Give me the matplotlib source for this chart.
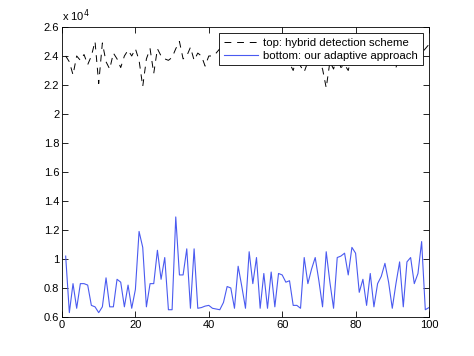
import matplotlib
matplotlib.use("Agg")
import matplotlib.pyplot as plt
from matplotlib.ticker import FuncFormatter

plt.rcParams['font.family'] = ['Liberation Sans', 'DejaVu Sans']

# values in units of 1e4 (axis shows "x 10^4"), x runs 1..100
top_hybrid = [
    2.40, 2.36, 2.27, 2.40, 2.37, 2.41, 2.34, 2.40, 2.50, 2.21,
    2.49, 2.36, 2.31, 2.42, 2.38, 2.32, 2.40, 2.44, 2.40, 2.45,
    2.37, 2.19, 2.38, 2.45, 2.28, 2.45, 2.40, 2.38, 2.37, 2.39,
    2.45, 2.50, 2.38, 2.40, 2.46, 2.37, 2.42, 2.40, 2.33, 2.40,
    2.40, 2.42, 2.45, 2.38, 2.44, 2.41, 2.39, 2.43, 2.33, 2.35,
    2.40, 2.42, 2.44, 2.39, 2.41, 2.43, 2.38, 2.42, 2.44, 2.40,
    2.38, 2.35, 2.30, 2.40, 2.33, 2.29, 2.36, 2.41, 2.42, 2.37,
    2.31, 2.18, 2.36, 2.31, 2.40, 2.32, 2.34, 2.30, 2.41, 2.43,
    2.40, 2.42, 2.39, 2.44, 2.36, 2.35, 2.41, 2.38, 2.34, 2.37,
    2.32, 2.40, 2.43, 2.41, 2.38, 2.44, 2.45, 2.42, 2.45, 2.48,
]
bottom_adaptive = [
    1.02, 0.63, 0.83, 0.66, 0.83, 0.83, 0.82, 0.68, 0.67, 0.63,
    0.67, 0.87, 0.67, 0.67, 0.86, 0.84, 0.67, 0.82, 0.66, 0.79,
    1.19, 1.08, 0.67, 0.83, 0.83, 1.06, 0.86, 1.01, 0.65, 0.65,
    1.29, 0.89, 0.89, 1.07, 0.66, 1.07, 0.66, 0.665, 0.675, 0.68,
    0.66, 0.655, 0.65, 0.70, 0.81, 0.80, 0.66, 0.95, 0.81, 0.66,
    1.05, 0.83, 1.01, 0.66, 0.90, 0.66, 0.91, 0.67, 0.90, 0.89,
    0.84, 0.85, 0.68, 0.68, 0.66, 1.01, 0.83, 0.93, 1.01, 0.85,
    0.67, 1.05, 0.84, 0.66, 1.01, 1.02, 1.04, 0.89, 1.08, 1.04,
    0.77, 0.86, 0.68, 0.90, 0.67, 0.83, 0.88, 0.97, 0.84, 0.66,
    0.83, 0.98, 0.67, 0.98, 1.01, 0.83, 0.90, 1.12, 0.65, 0.665,
]
x = list(range(1, len(bottom_adaptive) + 1))
labels = ['top: hybrid detection scheme', 'bottom: our adaptive approach']

fig = plt.figure(figsize=(4.74, 3.56), dpi=100)
ax = fig.add_axes([0.1308, 0.1096, 0.7742, 0.8146])

ax.plot(x, top_hybrid, color='black', lw=0.7, linestyle=(0, (7, 6)), label=labels[0])
ax.plot(x, bottom_adaptive, color='#4a5af0', lw=0.8, label=labels[1])

ax.set_xlim(0, 100)
ax.set_ylim(0.6, 2.6)
ax.set_xticks(range(0, 101, 20))
ax.set_yticks([0.6 + 0.2 * i for i in range(11)])
ax.yaxis.set_major_formatter(FuncFormatter(lambda v, p: '%g' % round(v, 1)))
ax.tick_params(direction='in', top=True, right=True, length=4, width=0.6,
               labelsize=8, pad=2)
for s in ax.spines.values():
    s.set_linewidth(0.6)

ax.text(0.0, 1.01, r'x 10$^4$', transform=ax.transAxes, ha='left', va='bottom', fontsize=8)

leg = ax.legend(loc='upper right', fontsize=8.2, fancybox=False, framealpha=1,
                edgecolor='black', handlelength=3.0, handletextpad=0.5,
                labelspacing=0.25, borderpad=0.4, borderaxespad=0.55)
leg.get_frame().set_linewidth(0.6)

fig.savefig('out.png', dpi=100)
